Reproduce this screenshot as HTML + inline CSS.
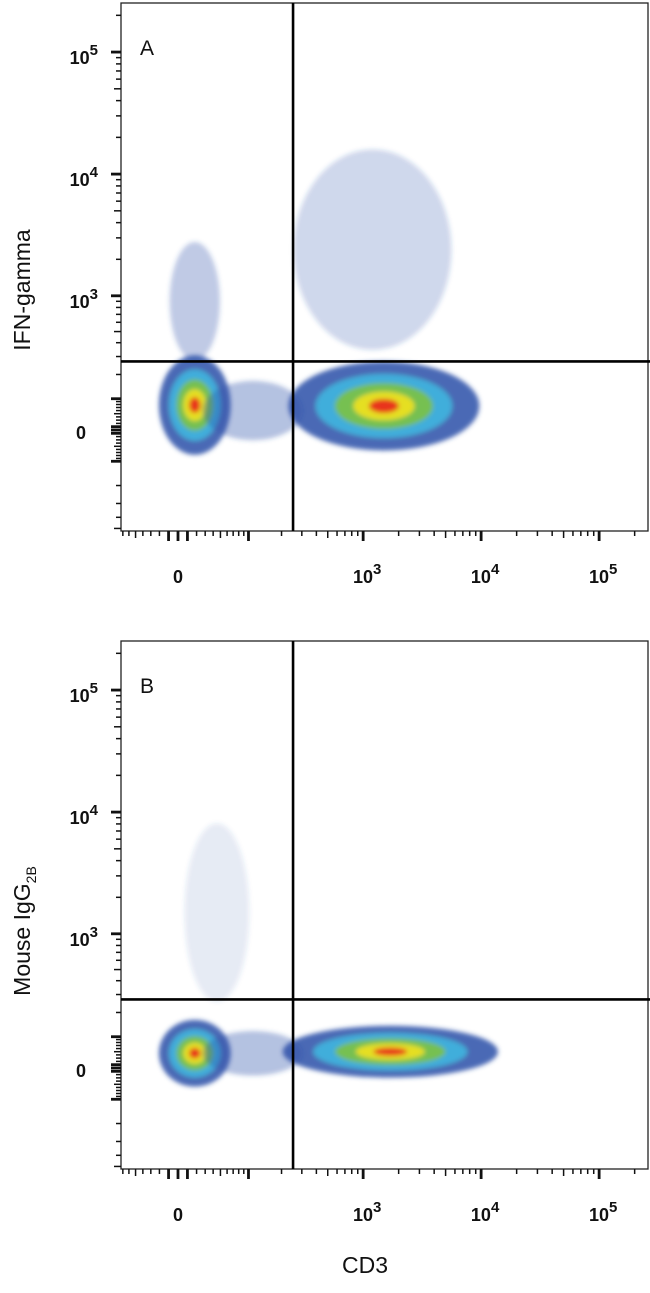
<!DOCTYPE html>
<html><head><meta charset="utf-8">
<style>
html,body{margin:0;padding:0;background:#fff;}
svg{display:block;}
text{font-family:"Liberation Sans",sans-serif;}
</style></head>
<body>
<svg id="chart" width="650" height="1293" viewBox="0 0 650 1293" xmlns="http://www.w3.org/2000/svg">
<defs>
<filter id="blur1" x="-50%" y="-50%" width="200%" height="200%"><feGaussianBlur stdDeviation="2.5"/></filter>
</defs>
</svg>
<script>
// ---- data (values in instrument units) ----
const panelNames = ["A", "B"];
const yTitles = ["IFN-gamma", "Mouse IgG"];
const xTickValues = [0, 1000, 10000, 100000];
const xTickLabels = ["0", "10|3", "10|4", "10|5"];
const yTickValues = [0, 1000, 10000, 100000];
const yTickLabels = ["0", "10|3", "10|4", "10|5"];
const gateX = [252, 252];
const gateY = [270, 270];
// populations: centre x, centre y, spread x/y (asinh units), density level (1..5)
const popPanel = [0, 0, 0, 0, 0, 1, 1, 1, 1];
const popX     = [18, 1500, 1200, 18, 110, 18, 1700, 45, 110];
const popY     = [78, 75, 2400, 900, 60, 45, 50, 1500, 45];
const popSX    = [0.5, 1.33, 1.1, 0.35, 0.7, 0.5, 1.5, 0.45, 0.7];
const popSY    = [0.67, 0.6, 1.35, 0.8, 0.4, 0.45, 0.35, 1.2, 0.3];
const popLevel = [5, 5, 1, 1, 1, 5, 5, 1, 1];
const popFade  = [1, 1, 0.22, 0.3, 0.35, 1, 1, 0.12, 0.35];

// ---- layout ----
const NS = "http://www.w3.org/2000/svg";
const svg = document.getElementById("chart");
const frameL = 121, frameR = 648;
const panelTop = [3, 641];
const panelH = 528;
const panelOff = [0, 638];
const XB = 51.25, XW = 54, X0 = 178;
const YB = 53, YW = 160, Y0 = 430;
function xScale(v){ return X0 + XB * Math.asinh(v / XW); }
function yScale(v, p){ return panelOff[p] + Y0 - YB * Math.asinh(v / YW); }

function mk(tag, attrs, parent){
  const e = document.createElementNS(NS, tag);
  for (const k in attrs) e.setAttribute(k, attrs[k]);
  (parent || svg).appendChild(e);
  return e;
}

const layerColors = ["#2b4fa8", "#3fb7e0", "#7cc242", "#f2e21b", "#e8231f"];
const layerScale  = [1.4, 1.0, 0.72, 0.45, 0.22];

for (let p = 0; p < 2; p++){
  const g = mk("g", {});
  
  
  const top = panelTop[p], bot = top + panelH;

  const pg = mk("g", {filter: "url(#blur1)"}, g);
  
  
  for (let i = 0; i < popX.length; i++){
    if (popPanel[i] !== p) continue;
    const cx = xScale(popX[i]), cy = yScale(popY[i], p);
    const rx = popSX[i] * XB, ry = popSY[i] * YB;
    for (let L = 0; L < popLevel[i]; L++){
      const e = mk("ellipse", {cx: cx, cy: cy, rx: rx * layerScale[L], ry: ry * layerScale[L],
        fill: layerColors[L], "fill-opacity": popFade[i] < 1 ? popFade[i] : (L === 0 ? 0.85 : 0.9)}, pg);
      
      
    }
  }

  const fr = mk("rect", {x: frameL, y: top, width: frameR - frameL, height: panelH, fill: "none", stroke: "#222", "stroke-width": 1.3}, g);
  
  

  const gx = xScale(gateX[p]), gy = yScale(gateY[p], p);
  const vl = mk("line", {x1: gx, x2: gx, y1: top, y2: bot, stroke: "#000", "stroke-width": 2.6}, g);
  
  
  const hl = mk("line", {x1: frameL, x2: 650, y1: gy, y2: gy, stroke: "#000", "stroke-width": 2.6}, g);
  
  

  const pl = mk("text", {x: 140, y: top + 52, "font-size": 21, fill: "#111"}, g);
  pl.textContent = panelNames[p];
  
  

  const tg = mk("g", {stroke: "#111"}, g);
  
  
  const tickVals = [0];
  for (let n = 1; n <= 5; n++) for (let k = 1; k <= 9; k++){ tickVals.push(k * Math.pow(10, n)); tickVals.push(-k * Math.pow(10, n)); }
  tickVals.forEach(v => {
    const k = Math.abs(v) / Math.pow(10, Math.floor(Math.log10(Math.abs(v) || 1)));
    const big = (k === 1 || v === 0);
    const len = big ? 10 : (k === 5 ? 7 : 5);
    const w = big ? 2.8 : 1.5;
    const x = xScale(v);
    if (x >= frameL && x <= frameR) mk("line", {x1: x, x2: x, y1: bot, y2: bot + len, "stroke-width": w}, tg);
    const y = yScale(v, p);
    if (y >= top && y <= bot) mk("line", {x1: frameL - len, x2: frameL, y1: y, y2: y, "stroke-width": w}, tg);
  });

  function lab(str, x, y, anchor, name){
    const t = mk("text", {x: x, y: y, "font-size": 18, "font-weight": "bold", "text-anchor": anchor, fill: "#111"}, g);
    const parts = str.split("|");
    t.textContent = parts[0];
    if (parts[1]){
      const s = mk("tspan", {dy: -9, "font-size": 15}, t);
      s.textContent = parts[1];
    }
    
    
  }
  xTickValues.forEach((v, i) => {
    const x = xScale(v);
    lab(xTickLabels[i], v === 0 ? x : x + 4, bot + 52, "middle", 'x-tick-label');
  });
  yTickValues.forEach((v, i) => {
    const y = yScale(v, p);
    lab(yTickLabels[i], v === 0 ? 86 : 98, v === 0 ? y + 9 : y + 12, "end", 'y-tick-label');
  });

  const cy = top + (p === 0 ? 287 : 290);
  const yt = mk("text", {x: 0, y: 0, "font-size": 23, fill: "#111", "text-anchor": "middle",
    transform: "translate(30," + cy + ") rotate(-90)"}, g);
  yt.textContent = yTitles[p];
  if (p === 1){
    const s = mk("tspan", {dy: 6, "font-size": 14}, yt);
    s.textContent = "2B";
  }
  
  
}

const xt = mk("text", {x: 365, y: 1273, "font-size": 23, fill: "#111", "text-anchor": "middle"});
xt.textContent = "CD3";


</script>
</body></html>
